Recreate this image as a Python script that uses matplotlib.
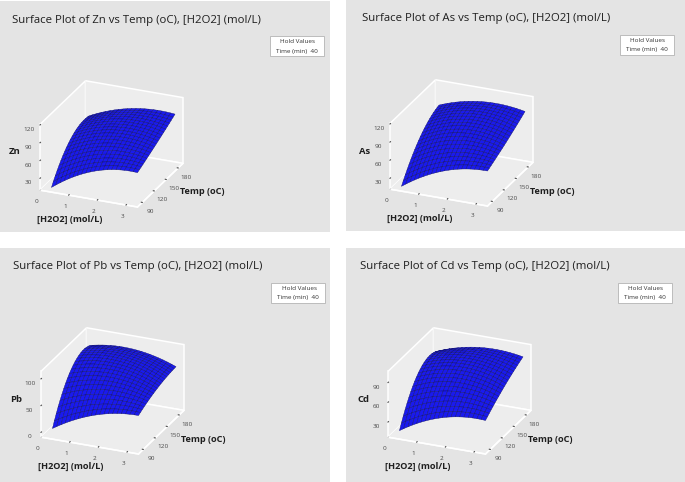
import numpy as np
import matplotlib
matplotlib.use('Agg')
import matplotlib.pyplot as plt
from matplotlib.patches import Rectangle
from mpl_toolkits.mplot3d import proj3d

plt.rcParams['font.family'] = ['Open Sans', 'DejaVu Sans']

# ---- data -------------------------------------------------------------
metals = ['Zn', 'As', 'Pb', 'Cd']

# surface heights on a 3x3 node grid
# rows: Temp nodes (front, middle, back), columns: H2O2 nodes (low, middle, high)
h2o2_nodes = [0.4, 1.9, 3.4]    # mol/L
temp_nodes = [78, 125, 172]     # oC
z_zn = [[18, 58, 68], [68, 92, 86], [78, 103, 106]]
z_as = [[20, 58, 70], [72, 97, 88], [95, 113, 109]]
z_pb = [[11, 50, 63], [88, 100, 80], [99, 106, 87]]
z_cd = [[20, 51, 58], [80, 95, 82], [86, 103, 100]]
z_nodes = {'Zn': z_zn, 'As': z_as, 'Pb': z_pb, 'Cd': z_cd}

h2o2_lim = [0, 3.4]
temp_lim = [78, 192]
h2o2_ticks = [0, 1, 2, 3]
temp_ticks = [90, 120, 150, 180]

z_lims = {'Zn': [10, 121], 'As': [12, 121], 'Pb': [-9, 114], 'Cd': [7, 107]}
z_ticks = {'Zn': [30, 60, 90, 120], 'As': [30, 60, 90, 120],
           'Pb': [0, 50, 100], 'Cd': [30, 60, 90]}
hold_time = 40

# ---- layout (pixels, origin top-left) --------------------------------
W, H = 685, 482
panels = {'Zn': (0, 1, 330, 231), 'As': (346, 0, 339, 231),
          'Pb': (0, 248, 330, 234), 'Cd': (346, 248, 339, 234)}
shift = {'Zn': 0, 'As': 4, 'Pb': 1, 'Cd': 2}
box_target = (40, 82, 183, 206)   # where the 3D box sits inside a panel
BG = '#e4e4e4'
PANE = (0.93, 0.93, 0.93, 1.0)
TXT = '#1e1e1e'

fig = plt.figure(figsize=(W / 100, H / 100), dpi=100, facecolor='white')


def fx(px):
    return px / W


def fy(py):
    return 1 - py / H


def quad_basis(s):
    # quadratic shape functions for nodes at -1, 0, 1
    return np.stack([s * (s - 1) / 2, 1 - s ** 2, s * (s + 1) / 2])


axes3d = {}
for m in metals:
    px, py, pw, ph = panels[m]
    dx = shift[m]
    bg = fig.add_axes([fx(px), fy(py + ph), pw / W, ph / H])
    bg.set_facecolor(BG)
    bg.set_xlim(0, pw)
    bg.set_ylim(ph, 0)
    bg.set_xticks([])
    bg.set_yticks([])
    for s in bg.spines.values():
        s.set_visible(False)

    bg.text(12 + dx, 19, f'Surface Plot of {m} vs Temp (oC), [H2O2] (mol/L)',
            fontsize=8.2, color=TXT, va='center', ha='left')
    bg.add_patch(Rectangle((270 + dx, 35), 54, 20, facecolor='white',
                           edgecolor='#b4b4b4', lw=0.6))
    bg.text(298 + dx, 40.5, 'Hold Values', fontsize=4.6, ha='center', va='center', color='#333333')
    bg.text(297 + dx, 50, f'Time (min)  {hold_time}', fontsize=4.6, ha='center', va='center',
            color='#333333')

    bg.text(9 + dx, 151, m, fontsize=6.8, fontweight='bold', ha='left', va='center', color=TXT)
    bg.text(70 + dx, 218, '[H2O2] (mol/L)', fontsize=6.6, fontweight='bold', ha='center',
            va='center', color=TXT)
    bg.text(202 + dx, 191, 'Temp (oC)', fontsize=6.6, fontweight='bold', ha='center',
            va='center', color=TXT)

    ax = fig.add_axes([fx(px), fy(py + ph), 0.4, 0.4 * W / H], projection='3d')
    ax.set_proj_type('ortho')
    ax.view_init(elev=24, azim=-67)
    ax.set_box_aspect((1, 1.1, 0.68))
    ax.patch.set_alpha(0)

    h = np.linspace(h2o2_nodes[0], h2o2_nodes[-1], 21)
    t = np.linspace(temp_nodes[0], temp_nodes[-1], 21)
    Hg, Tg = np.meshgrid(h, t)
    u = (Hg - h2o2_nodes[1]) / (h2o2_nodes[2] - h2o2_nodes[1])
    v = (Tg - temp_nodes[1]) / (temp_nodes[2] - temp_nodes[1])
    Z = np.einsum('j...,ji,i...->...', quad_basis(v), np.array(z_nodes[m], float), quad_basis(u))

    ax.plot_surface(Hg, Tg, Z, rstride=1, cstride=1, color='#1a1aee',
                    edgecolor='#10106e', linewidth=0.3, shade=False, antialiased=True)

    ax.set_xlim(h2o2_lim)
    ax.set_ylim(temp_lim)
    ax.set_zlim(z_lims[m])
    ax.set_xticks(h2o2_ticks)
    ax.set_yticks(temp_ticks)
    ax.set_zticks(z_ticks[m])
    ax.grid(False)
    ax.zaxis.set_ticks_position('lower')
    for axis in (ax.xaxis, ax.yaxis, ax.zaxis):
        axis.set_pane_color(PANE)
        axis.pane.set_edgecolor('white')
        axis.pane.set_linewidth(1.1)
        axis.line.set_color('white')
        axis.line.set_linewidth(1.1)
        axis._axinfo['tick']['inward_factor'] = 0.0
        axis._axinfo['tick']['outward_factor'] = 0.12
        axis._axinfo['tick']['color'] = 'white'
    ax.tick_params(axis='both', labelsize=4.6, colors='#4a4a4a', pad=-3)
    axes3d[m] = ax

# fit every 3D box onto its spot in the panel
fig.canvas.draw()
for m in metals:
    ax = axes3d[m]
    px, py, pw, ph = panels[m]
    dx = shift[m]
    xs, ys, zs = np.meshgrid(h2o2_lim, temp_lim, z_lims[m])
    x2, y2, _ = proj3d.proj_transform(xs.ravel(), ys.ravel(), zs.ravel(), ax.get_proj())
    d = ax.transData.transform(np.column_stack([x2, y2]))
    pos = ax.get_position()
    ax_x0, ax_y0 = pos.x0 * W, pos.y0 * H
    ax_w = pos.width * W
    bx0, by0 = d[:, 0].min(), d[:, 1].min()
    bw = d[:, 0].max() - bx0
    tx0 = px + box_target[0] + dx
    tx1 = px + box_target[2] + dx
    ty0 = H - (py + box_target[3])
    S = (tx1 - tx0) / (bw / ax_w)
    nx0 = tx0 - (bx0 - ax_x0) / ax_w * S
    ny0 = ty0 - (by0 - ax_y0) / ax_w * S
    ax.set_position([nx0 / W, ny0 / H, S / W, S / H])

fig.savefig('out.png', dpi=100, facecolor='white')
